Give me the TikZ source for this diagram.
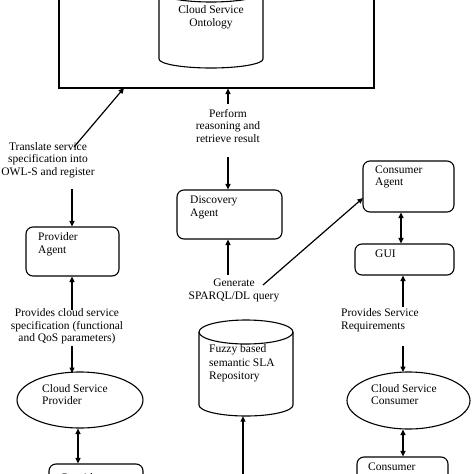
\documentclass[tikz,border=0pt]{standalone}
\usepackage{fontspec}
\setmainfont{Liberation Serif}
\usetikzlibrary{arrows.meta,shapes.geometric}
\begin{document}
\begin{tikzpicture}[x=1pt,y=-1pt,
  box/.style={draw,line width=1.1pt,rounded corners=7pt,inner sep=0pt},
  oval/.style={draw,line width=1.1pt,ellipse,inner sep=0pt},
  txt/.style={inner sep=0pt,font=\fontsize{11.5}{12.7}\selectfont},
  conn/.style={line width=1.2pt,-{Triangle[length=5.5pt,width=5pt]}},
  dconn/.style={line width=1.2pt,{Triangle[length=5.5pt,width=5pt]}-{Triangle[length=5.5pt,width=5pt]}}]
\useasboundingbox (0,0) rectangle (474,474);
\clip (0,0) rectangle (474,474);
\fill[white] (0,0) rectangle (474,474);

% big rectangle holding the ontology
\node[draw,line width=1.1pt,inner sep=0pt,minimum width=315pt,minimum height=128pt] (big) at (216.5,24) {};
% ontology cylinder
\draw[line width=1.1pt] (159,-8) -- (159,59) arc[start angle=180,end angle=0,x radius=52,y radius=9] -- (263,-8);
\draw[line width=1.1pt] (211,-8) ellipse [x radius=52,y radius=10];
\node[txt,align=center] (ont) at (211,17.5) {Cloud Service\\Ontology};

% labels
\node[txt,align=center] (perf) at (228,126) {Perform\\reasoning and\\retrieve result};
\node[txt,align=center] (trans) at (48,160) {Translate service\\specification into\\OWL-S and register};
\node[txt,align=center] (provs) at (67,326.5) {Provides cloud service\\specification (functional\\and QoS parameters)};
\node[txt,align=center] (gen) at (234,290.5) {Generate\\SPARQL/DL query};
\node[txt,align=left,anchor=west] (req) at (341,320.5) {Provides Service\\Requirements};

% boxes
\node[box,minimum width=93pt,minimum height=49pt] (pa) at (72.5,251.5) {};
\node[txt,align=left,anchor=west] (pat) at (38,244) {Provider\\Agent};
\node[box,minimum width=105pt,minimum height=49pt] (da) at (229.5,214.5) {};
\node[txt,align=left,anchor=west] (dat) at (190,207.5) {Discovery\\Agent};
\node[box,minimum width=91pt,minimum height=51pt] (ca) at (408.5,186.5) {};
\node[txt,align=left,anchor=west] (cat) at (375,177) {Consumer\\Agent};
\node[box,minimum width=99pt,minimum height=31pt] (gui) at (404.5,259.5) {};
\node[txt,anchor=west] (guit) at (375,254) {GUI};
\node[box,minimum width=94pt,minimum height=46pt] (pb) at (96,487) {};
\node[txt,anchor=west] (pbt) at (62,478) {Provider};
\node[box,minimum width=91pt,minimum height=48pt] (cb) at (402.5,481) {};
\node[txt,anchor=west] (cbt) at (368,467) {Consumer};

% ellipses
\node[oval,minimum width=126pt,minimum height=56pt] (csp) at (80,400) {};
\node[txt,align=left,anchor=west] (cspt) at (42,394.5) {Cloud Service\\Provider};
\node[oval,minimum width=123pt,minimum height=57pt] (csc) at (408.5,400.5) {};
\node[txt,align=left,anchor=west] (csct) at (371,394.5) {Cloud Service\\Consumer};

% fuzzy repository cylinder
\draw[line width=1.1pt] (199,332) -- (199,405) arc[start angle=180,end angle=0,x radius=47,y radius=11] -- (293,332);
\draw[line width=1.1pt] (246,332) ellipse [x radius=47,y radius=12];
\node[inner sep=0pt,minimum width=94pt,minimum height=96pt] (fz) at (246,368) {};
\node[txt,align=left,anchor=west,font=\fontsize{11.5}{13.5}\selectfont] (fzt) at (209,363.5) {Fuzzy based\\semantic SLA\\Repository};

% connector anchors
\coordinate (t1) at (74,147);
\coordinate (t2) at (124,88);
\coordinate (p1) at (228,104);
\coordinate (p2) at (228,157);
\coordinate (x2) at (78,0);
\coordinate (x4) at (401,0);
\coordinate (x5) at (403,0);
\coordinate (x6) at (243,0);
\coordinate (g1) at (263,285);
\coordinate (g2) at (363,198);
\coordinate (a1) at (72,189);
\coordinate (a2) at (72,310);
\coordinate (a3) at (72,346);
\coordinate (a4) at (72,373);
\coordinate (d1) at (228,275);
\coordinate (r1) at (403,307);
\coordinate (r2) at (403,346);
\coordinate (r3) at (403,372);
\coordinate (f1) at (243,480);

% connectors
\draw[conn] (t1) -- (t2);
\draw[conn] (p1) -- (big.south -| p1);
\draw[conn] (p2) -- (da.north -| p2);
\draw[conn] (a1) -- (pa.north -| a1);
\draw[conn] (a2) -- (pa.south -| a2);
\draw[conn] (a3) -- (a4);
\draw[dconn] (csp.south -| x2) -- (pb.north -| x2);
\draw[conn] (d1) -- (da.south -| d1);
\draw[conn] (g1) -- (g2);
\draw[dconn] (ca.south -| x4) -- (gui.north -| x4);
\draw[conn] (r1) -- (gui.south -| r1);
\draw[conn] (r2) -- (r3);
\draw[dconn] (csc.south -| x5) -- (cb.north -| x5);
\draw[conn] (f1) -- (fz.south -| x6);
\end{tikzpicture}
\end{document}
